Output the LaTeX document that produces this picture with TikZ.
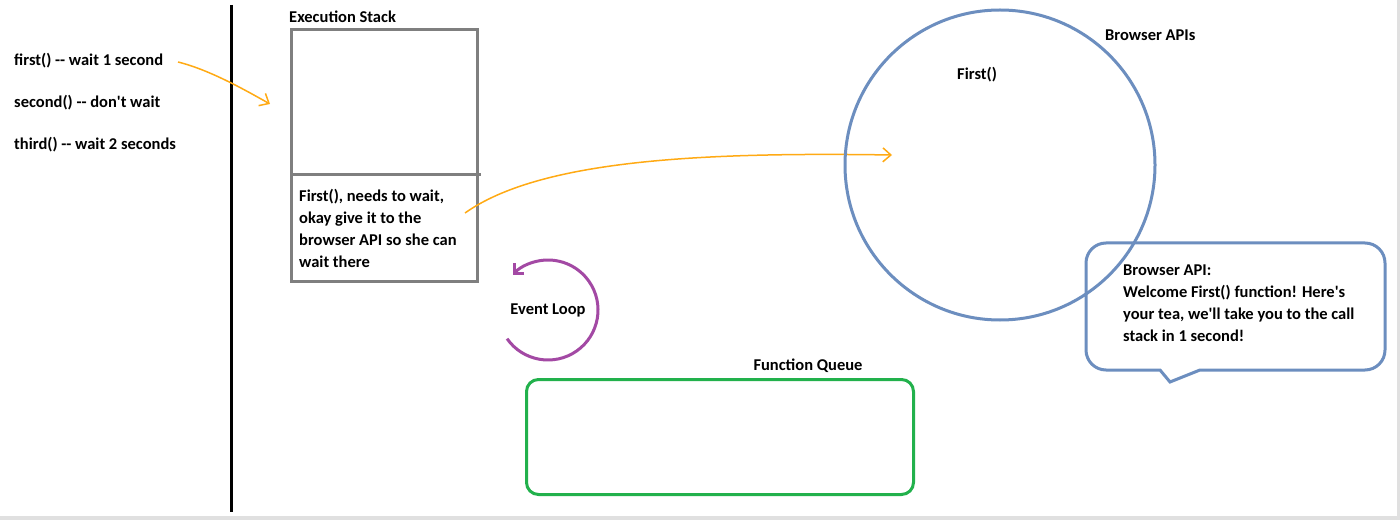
\documentclass[tikz,border=0pt]{standalone}
\usepackage{fontspec}
\setmainfont{Carlito}
\usetikzlibrary{arrows.meta}
\definecolor{bapi}{RGB}{108,142,191}
\definecolor{stk}{RGB}{127,127,127}
\definecolor{fq}{RGB}{34,177,76}
\definecolor{evl}{RGB}{163,73,164}
\definecolor{org}{RGB}{255,170,20}
\newcommand{\ap}{\textquotesingle}
\tikzset{txt/.style={font=\fontsize{16.5}{22}\selectfont\bfseries, inner sep=0pt},
 oarrow/.style={org, line width=1.5pt, -{Straight Barb[length=8pt,width=14pt]}}}
\begin{document}
\begin{tikzpicture}[x=1pt,y=1pt]
\useasboundingbox (0,0) rectangle (1400,520);
\fill[white] (0,0) rectangle (1400,520);
\fill[black!12] (0,0) rectangle (1400,4);
\fill[black!12] (1397,4) rectangle (1400,520);
\coordinate (vt) at (231,515); \coordinate (vb) at (231,8);
\draw[line width=3pt] (vt) -- (vb);
\node[txt,anchor=west] (l1) at (14,459) {first() -{}- wait 1 second};
\node[txt,anchor=west] (l2) at (14,417) {second() -{}- don\ap t wait};
\node[txt,anchor=west] (l3) at (14,375) {third() -{}- wait 2 seconds};
\node[txt,anchor=west] (es) at (289,503) {Execution Stack};
\node[draw=stk,line width=3pt,minimum width=186pt,minimum height=252pt,anchor=north west] (stack) at (290,492) {};
\coordinate (d1) at (290,345); \coordinate (d2) at (481,345);
\draw[stk,line width=3pt] (d1) -- (d2);
\node[txt,anchor=north west,align=left] (t1) at (299,331) {First(), needs to wait,\\okay give it to the\\browser API so she can\\wait there};
\coordinate (a1s) at (178,458); \coordinate (a1e) at (270,416);
\draw[oarrow] (a1s) .. controls (210,450) and (245,430) .. (a1e);
\coordinate (a2s) at (465,307); \coordinate (a2e) at (892,365);
\draw[oarrow] (a2s) .. controls (540,360) and (700,368) .. (a2e);
\node[draw=bapi,line width=3pt,circle,minimum size=310pt] (c) at (1000,355) {};
\node[txt,anchor=west] (ba) at (1105,485) {Browser APIs};
\node[txt,anchor=west] (f1) at (957,445) {First()};
\draw[bapi,line width=3pt] (1106,277) -- (1365,277) arc[start angle=90,end angle=0,radius=20pt] -- (1385,170) arc[start angle=0,end angle=-90,radius=20pt] -- (1200,150) -- (1170,138) -- (1160,150) -- (1106,150) arc[start angle=270,end angle=180,radius=20pt] -- (1086,257) arc[start angle=180,end angle=90,radius=20pt] -- cycle;
\node[txt,anchor=north west,align=left] (bt) at (1123,255) {Browser API:\\Welcome First() function! Here\ap s\\your tea, we\ap ll take you to the call\\stack in 1 second!};
\node[txt] (el) at (548,210) {Event Loop};
\draw[evl,line width=3pt,-{Straight Barb[length=7pt,width=14pt]}] ([shift={(215:50)}]548,210) arc[start angle=215,end angle=495,radius=50];
\node[txt] (fql) at (808,154) {Function Queue};
\node[draw=fq,line width=3pt,rounded corners=12pt,minimum width=387pt,minimum height=115pt,anchor=north west] (queue) at (525,142) {};
\end{tikzpicture}
\end{document}
